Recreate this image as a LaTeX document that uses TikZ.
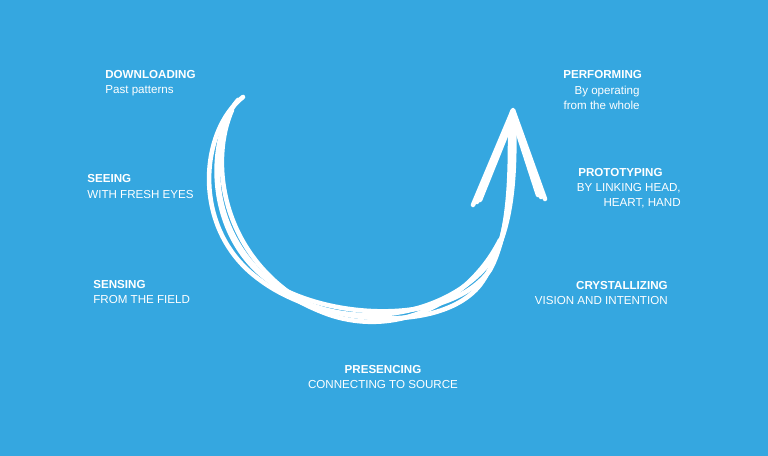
\documentclass[tikz,border=0pt]{standalone}
\usepackage{fontspec}
\setmainfont{Liberation Sans}
\usetikzlibrary{calc}
\definecolor{sky}{HTML}{35A7E0}
\tikzset{
  title/.style={font=\fontsize{6.6}{8.6}\selectfont\bfseries, text=white, inner sep=0pt},
  sub/.style={font=\fontsize{6.6}{8.6}\selectfont, text=white, inner sep=0pt},
  stroke/.style={draw=white, line width=2.6pt, line cap=round, line join=round}
}
\begin{document}
\begin{tikzpicture}[x=0.02cm, y=-0.02cm]
  \fill[sky] (0,0) rectangle (768,456);
  %left side
  \node[title, anchor=base west] (down) at (105,79) {DOWNLOADING};
  \node[sub, anchor=base west] (downs) at (105,94) {Past patterns};
  \node[title, anchor=base west] (see) at (87,183) {SEEING};
  \node[sub, anchor=base west] (sees) at (87,198) {WITH FRESH EYES};
  \node[title, anchor=base west] (sens) at (93,288) {SENSING};
  \node[sub, anchor=base west] (senss) at (93,303) {FROM THE FIELD};
  %bottom
  \node[title, anchor=base] (pres) at (383,373) {PRESENCING};
  \node[sub, anchor=base] (press) at (383,388) {CONNECTING TO SOURCE};
  %right side
  \node[title, anchor=base east] (crys) at (668,289) {CRYSTALLIZING};
  \node[sub, anchor=base east] (cryss) at (668,304) {VISION AND INTENTION};
  \node[title, anchor=base west] (proto) at (578,176) {PROTOTYPING};
  \node[sub, anchor=north east, align=right] (protos) at (681,183) {BY LINKING HEAD,\\HEART,\ HAND};
  \node[title, anchor=base west] (perf) at (563,79) {PERFORMING};
  \node[sub, anchor=north east, align=right] (perfs) at (640,86) {By operating\\from the whole};
  %sketched arc
  \draw[stroke] (243,97) .. controls (200,130) and (190,230) .. (260,280)
    .. controls (320,325) and (440,335) .. (480,285)
    .. controls (510,245) and (515,170) .. (512,112);
  \draw[stroke] (238,100) .. controls (205,140) and (205,240) .. (275,285)
    .. controls (335,320) and (450,325) .. (490,270)
    .. controls (512,230) and (510,160) .. (510,118);
  \draw[stroke] (232,110) .. controls (210,160) and (220,250) .. (300,300)
    .. controls (360,330) and (455,315) .. (495,255)
    .. controls (515,215) and (515,160) .. (514,115);
  \draw[stroke] (228,120) .. controls (200,190) and (230,280) .. (330,315)
    .. controls (400,338) and (470,300) .. (500,240);
  %arrow head
  \coordinate (tip) at (513,110);
  \coordinate (lw) at (473,205);
  \coordinate (rw) at (545,199);
  \draw[stroke] (lw) -- (tip) -- (rw);
  \draw[stroke] ($(lw)+(4,-3)$) -- ($(tip)+(0,4)$) -- ($(rw)+(-4,-2)$);
  \draw[stroke] ($(lw)+(7,-5)$) -- ($(tip)+(0,8)$) -- ($(rw)+(-7,-4)$);
\end{tikzpicture}
\end{document}
